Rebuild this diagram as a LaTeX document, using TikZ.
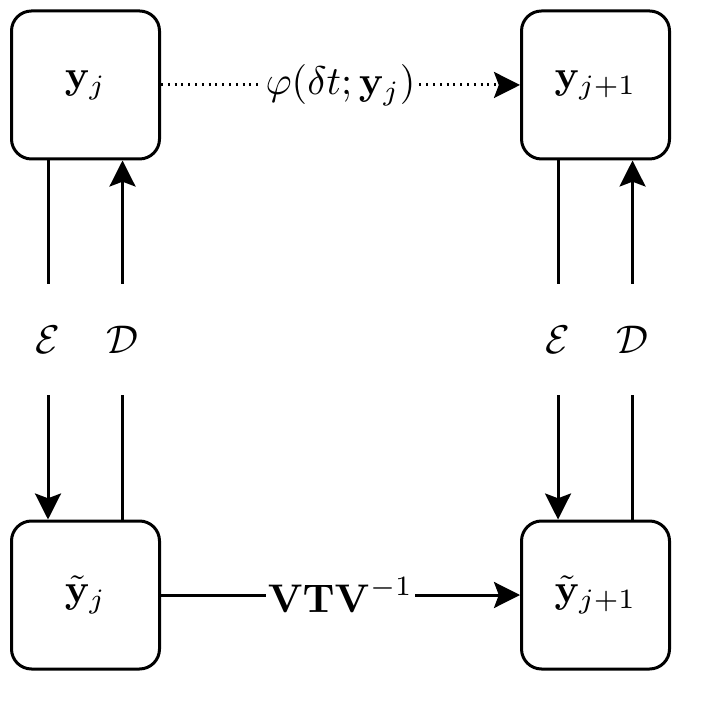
\documentclass[tikz,border=0pt]{standalone}
\usetikzlibrary{arrows.meta}
\begin{document}
\begin{tikzpicture}[x=0.25pt,y=-0.25pt,
  box/.style={draw,line width=0.75pt,rounded corners=5pt,minimum width=37pt,minimum height=37pt,inner sep=0pt,font=\fontsize{10}{12}\selectfont},
  conn/.style={line width=0.75pt,-{Stealth[length=6.5pt,width=6.5pt,inset=1.2pt]}},
  dots/.style={conn,dash pattern=on 0.5pt off 1.2pt},
  vlab/.style={fill=white,inner sep=0pt,minimum height=27.75pt,font=\fontsize{10}{12}\selectfont},
  hlab/.style={fill=white,inner ysep=2pt,inner xsep=0.6pt,font=\fontsize{10}{12}\selectfont}]
\useasboundingbox (0,0) rectangle (723,723);
\node[box] (yj) at (85.5,85) {$\mathbf{y}_j$};
\node[box] (yj1) at (595.5,85) {$\mathbf{y}_{j+1}$};
\node[box] (tj) at (85.5,595) {$\tilde{\mathbf{y}}_j$};
\node[box] (tj1) at (595.5,595) {$\tilde{\mathbf{y}}_{j+1}$};
\draw[dots] (yj) -- node[hlab] {$\varphi(\delta t;\mathbf{y}_j)$} (yj1);
\draw[conn] (tj) -- node[hlab] {$\mathbf{VTV}^{-1}$} (tj1);
\draw[conn] ([xshift=-9.375pt]yj.south) -- node[vlab] {$\mathcal{E}$} ([xshift=-9.375pt]tj.north);
\draw[conn] ([xshift=9.25pt]tj.north) -- node[vlab] {$\mathcal{D}$} ([xshift=9.25pt]yj.south);
\draw[conn] ([xshift=-9.375pt]yj1.south) -- node[vlab] {$\mathcal{E}$} ([xshift=-9.375pt]tj1.north);
\draw[conn] ([xshift=9.25pt]tj1.north) -- node[vlab] {$\mathcal{D}$} ([xshift=9.25pt]yj1.south);
\end{tikzpicture}
\end{document}
